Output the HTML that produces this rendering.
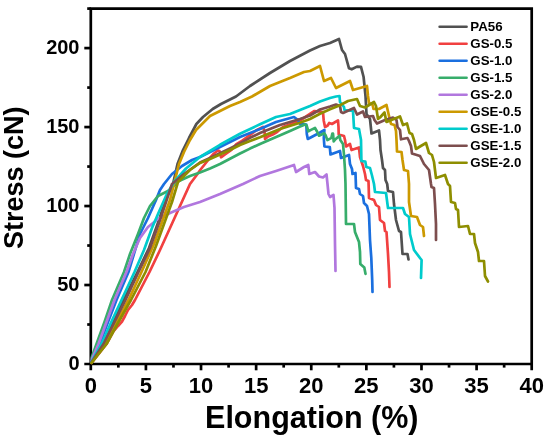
<!DOCTYPE html>
<html><head><meta charset="utf-8"><title>Stress-Elongation</title>
<style>
html,body{margin:0;padding:0;background:#fff;}
body{width:550px;height:439px;overflow:hidden;}
svg{display:block;}
text{font-family:"Liberation Sans",Arial,sans-serif;font-weight:bold;fill:#000;}
.tl{font-size:22px;}
.tly{font-size:20px;}
.lg{font-size:13.3px;}
.c{fill:none;stroke-width:2.7;stroke-linejoin:round;stroke-linecap:round;}
.ax{stroke:#000;stroke-width:2.7;fill:none;stroke-linecap:butt;}
</style></head><body>
<svg width="550" height="439" viewBox="0 0 550 439">
<rect width="550" height="439" fill="#fff"/>
<defs><clipPath id="cp"><rect x="90.20" y="8.6" width="441.50" height="355.80"/></clipPath></defs>
<path class="ax" d="M90.8,370.3 V8.6 H531.7 V370.3"/>
<path class="ax" d="M84.3,364.0 H531.7"/>
<path class="ax" d="M118.36,364.0 v3.6"/>
<path class="ax" d="M145.91,364.0 v6.3"/>
<path class="ax" d="M173.47,364.0 v3.6"/>
<path class="ax" d="M201.02,364.0 v6.3"/>
<path class="ax" d="M228.58,364.0 v3.6"/>
<path class="ax" d="M256.14,364.0 v6.3"/>
<path class="ax" d="M283.69,364.0 v3.6"/>
<path class="ax" d="M311.25,364.0 v6.3"/>
<path class="ax" d="M338.81,364.0 v3.6"/>
<path class="ax" d="M366.36,364.0 v6.3"/>
<path class="ax" d="M393.92,364.0 v3.6"/>
<path class="ax" d="M421.48,364.0 v6.3"/>
<path class="ax" d="M449.03,364.0 v3.6"/>
<path class="ax" d="M476.59,364.0 v6.3"/>
<path class="ax" d="M504.14,364.0 v3.6"/>
<path class="ax" d="M90.8,324.51 h-3.6"/>
<path class="ax" d="M90.8,285.02 h-6.5"/>
<path class="ax" d="M90.8,245.53 h-3.6"/>
<path class="ax" d="M90.8,206.04 h-6.5"/>
<path class="ax" d="M90.8,166.56 h-3.6"/>
<path class="ax" d="M90.8,127.07 h-6.5"/>
<path class="ax" d="M90.8,87.58 h-3.6"/>
<path class="ax" d="M90.8,48.09 h-6.5"/>
<path class="ax" d="M90.8,8.60 h-3.6"/>
<g clip-path="url(#cp)">
<polyline class="c" stroke="#515151" points="91.5,362.5 103,344 113,322 123.5,300 137.5,272 149,248 159,220 167,196 173,184 177.5,164 183,150 189,138 196.4,124 203,117 212.7,109 221,104 229,100 236,96.5 250,86 270,73 290,61 310,50.5 320,46 330,43 339,39 342,50 345,54 349,68.3 351.7,69.3 357,66.6 361,66.8 363.6,77 364.4,85 365.5,96 366.5,114 370,119 371.5,133.5 379,130.5 380,140 380.5,150 382,160 383,168 385,170 385.5,180 387.2,184 388,191 393,192 394,204 396,220 399,231 401,232 402.5,254 407.5,254 408.5,259.5"/>
<polyline class="c" stroke="#F14040" points="91.5,363 106.5,344 113,332 118,326 122,321.5 125,316 128,310 132,305 135,300 149.5,272 160,250 170,228 180,206 190,184 196,176 201,169 209,159 214,153.5 218,150.5 219.5,151 221,157.3 225,154.5 231.4,150 236,144.5 241,141.5 256,130.5 263,127 264.5,131 265,139 268,136.4 272.7,134.5 277,132 283,127 295.5,122.3 300,120.5 314.5,111 323,112 323.7,120.4 325,127 327.7,125.5 329.2,123 332,124 338,120.4 338.5,127 338.7,134.5 344,136 345,140 346,146.5 350,144 351.5,150 359,147.5 360,157 362,163 363,166 365,174 366,180 368.5,181 369,198 374,200 376,205 379,207 380,220 384,223 385,231 386.5,232 388,254 389,272 389.5,287"/>
<polyline class="c" stroke="#1A6FDF" points="91.5,361 99.7,344 108,322 116.5,300 128.5,272 140,234 148,218 156,200 160,190 164,184 172,174 182,166 192,160 200,157 220,147 240,137 260,129 276,122 294,117 298,120 300,124 306.3,124.5 306.8,134 307.8,139 316.8,134.3 324.4,130 323.8,138 324.4,146.5 329.8,147.2 330.5,154.5 340,151 341,158 349,155 350,164 352,169 352.5,174 355.5,173 356,188 359,189 360,194 363,196 364,203 367,206 369,214 370,240 371.3,258 372.2,280 372.5,292"/>
<polyline class="c" stroke="#37AD6B" points="91.5,358 96.5,344 104.5,322 112,300 124,272 130,254 138,234 144,218 150,206 158,196 168,191 176,184 178,181.5 190,176 200,172.5 210,168.5 220,164 240,153.5 250,148.6 260,144 275,137.5 290,131 300,126.6 305.1,124.4 306.6,125.5 308.4,131.3 311,129.9 315,128 317.2,131.7 319,135.7 324.1,133.2 325.5,135 327.4,140.1 331.4,137.9 332.3,133.7 333,133.7 333.7,141.3 335.2,139.5 339.5,135.8 340.3,140 343,144 344,155 345,170 345.5,184 346,224 354,224 355,232 359,242 360,252 360.3,264 364.3,267.5 365.5,273.8"/>
<polyline class="c" stroke="#B177DE" points="91.5,360 98.5,344 106.5,322 114.5,300 126.5,272 133,254 140,238 148,227 158,219 170,213 184,207 200,202 220,194 243,184 260,176 276,171 294,165 296,172 304,167 308.3,165 309.3,174 315,172 319,176.5 323,177.5 326.5,174.5 327.5,184 328.5,194 330,197 333.5,195 334.5,208 335,244 335.5,271"/>
<polyline class="c" stroke="#CC9900" points="91.5,363 105,344 116.5,322 128.5,300 141.5,272 154,244 162,222 170,200 174,184 179,164 184,152 190,140 196,130 200,126 210,116 220,111 230,106 240,102 252,96.5 270,86 290,78 304,72 310,71 320,66 324,81 331,78 336,88 350,81 353,90 367,86 368,96 369,103 372.5,104.5 373.5,109 379,109 386.5,105 389,116 391,124 394.5,125 396,131 396.5,140 397,151.5 401.5,152 402.5,160 404,170 408,171 409,184 409,202 411,216 417,217 420,225 423,227 424,236"/>
<polyline class="c" stroke="#00CBCC" points="91.5,362 101.5,344 111.3,322 121.5,300 134.5,272 144,250 152,228 158,214 166,196 174,182 186,168.5 200,157 220,144.8 240,133.7 260,124.3 276,117 290,114 310,106 320,101.5 330,98 336,96.5 339.5,96 340,102 344,107 344.5,110 353,111 354,128 359,129 361,140 361.4,161 365.3,161.6 366.3,167 370,168 372,175.5 374,184 375,192 386,193 388,208 403,208 405,214 409,217 410,234 414,250 420,258 421.6,260 421,278"/>
<polyline class="c" stroke="#7D4E4E" points="91.5,362.5 103.5,344 114.5,322 125.5,300 138.5,272 150,248 160,220 168,196 172,184 184,174 200,162.5 210,158 220,153.3 230,148.5 240,143.5 250,137.8 260,133 280,125 300,119 310,115.5 320,109.5 330,106.5 336,104.5 340,106 341,112 343,113 354,108 357,114.5 363,111.5 365,117 373,116 374.5,120 377,123.5 385,120 393,117.5 396.5,120 397.5,127 400,130 401,139.3 407.5,138 409,141 411,146 412,153.5 420,156 424,164 429,170 431,184 431.5,187 434,188 435,204 436,224 436,240"/>
<polyline class="c" stroke="#8E8E00" points="91.5,363 106.5,344 118.5,322 131,300 145.5,272 156,246 164,224 172,202 178,182 190,170 200,163 210,159 220,154.5 230,150 240,145 250,141 260,137.3 280,129 300,122.7 310,119 320,113.7 330,109.3 335,107.3 340,105.3 348,101 357,99 360,106 365,107.5 374,102 376,106 378,119 380,117.5 384.5,112.5 386.5,122 395,118.5 400,116.5 403,125 407,123.5 409.5,133 412,134 414,140 416,149 420,146.5 426,143 429,153 432,155 434,162 436,178 445,175 448,184 450,186 451,202 455,203 456,209 458,210 459,227 468,226 470,234 474,234 475,243 478,252 479,261 484,261 485,276 488,281.5"/>
</g>
<text class="tl" x="90.80" y="392.5" text-anchor="middle">0</text>
<text class="tl" x="145.91" y="392.5" text-anchor="middle">5</text>
<text class="tl" x="201.02" y="392.5" text-anchor="middle">10</text>
<text class="tl" x="256.14" y="392.5" text-anchor="middle">15</text>
<text class="tl" x="311.25" y="392.5" text-anchor="middle">20</text>
<text class="tl" x="366.36" y="392.5" text-anchor="middle">25</text>
<text class="tl" x="421.48" y="392.5" text-anchor="middle">30</text>
<text class="tl" x="476.59" y="392.5" text-anchor="middle">35</text>
<text class="tl" x="531.70" y="392.5" text-anchor="middle">40</text>
<text class="tly" x="79.5" y="370.40" text-anchor="end">0</text>
<text class="tly" x="79.5" y="291.42" text-anchor="end">50</text>
<text class="tly" x="79.5" y="212.44" text-anchor="end">100</text>
<text class="tly" x="79.5" y="133.47" text-anchor="end">150</text>
<text class="tly" x="79.5" y="54.49" text-anchor="end">200</text>
<text x="311.8" y="428" text-anchor="middle" font-size="30.5">Elongation (%)</text>
<text transform="translate(23.2,177.7) rotate(-90)" text-anchor="middle" font-size="27">Stress (cN)</text>
<path d="M439.6,26.7 H466.6" stroke="#515151" stroke-width="2.55" stroke-linecap="round" fill="none"/>
<text class="lg" x="470.3" y="30.5">PA56</text>
<path d="M439.6,43.7 H466.6" stroke="#F14040" stroke-width="2.55" stroke-linecap="round" fill="none"/>
<text class="lg" x="470.3" y="47.5">GS-0.5</text>
<path d="M439.6,60.7 H466.6" stroke="#1A6FDF" stroke-width="2.55" stroke-linecap="round" fill="none"/>
<text class="lg" x="470.3" y="64.5">GS-1.0</text>
<path d="M439.6,77.7 H466.6" stroke="#37AD6B" stroke-width="2.55" stroke-linecap="round" fill="none"/>
<text class="lg" x="470.3" y="81.5">GS-1.5</text>
<path d="M439.6,94.7 H466.6" stroke="#B177DE" stroke-width="2.55" stroke-linecap="round" fill="none"/>
<text class="lg" x="470.3" y="98.5">GS-2.0</text>
<path d="M439.6,111.7 H466.6" stroke="#CC9900" stroke-width="2.55" stroke-linecap="round" fill="none"/>
<text class="lg" x="470.3" y="115.5">GSE-0.5</text>
<path d="M439.6,128.7 H466.6" stroke="#00CBCC" stroke-width="2.55" stroke-linecap="round" fill="none"/>
<text class="lg" x="470.3" y="132.5">GSE-1.0</text>
<path d="M439.6,145.7 H466.6" stroke="#7D4E4E" stroke-width="2.55" stroke-linecap="round" fill="none"/>
<text class="lg" x="470.3" y="149.5">GSE-1.5</text>
<path d="M439.6,162.7 H466.6" stroke="#8E8E00" stroke-width="2.55" stroke-linecap="round" fill="none"/>
<text class="lg" x="470.3" y="166.5">GSE-2.0</text>
</svg>
</body></html>
